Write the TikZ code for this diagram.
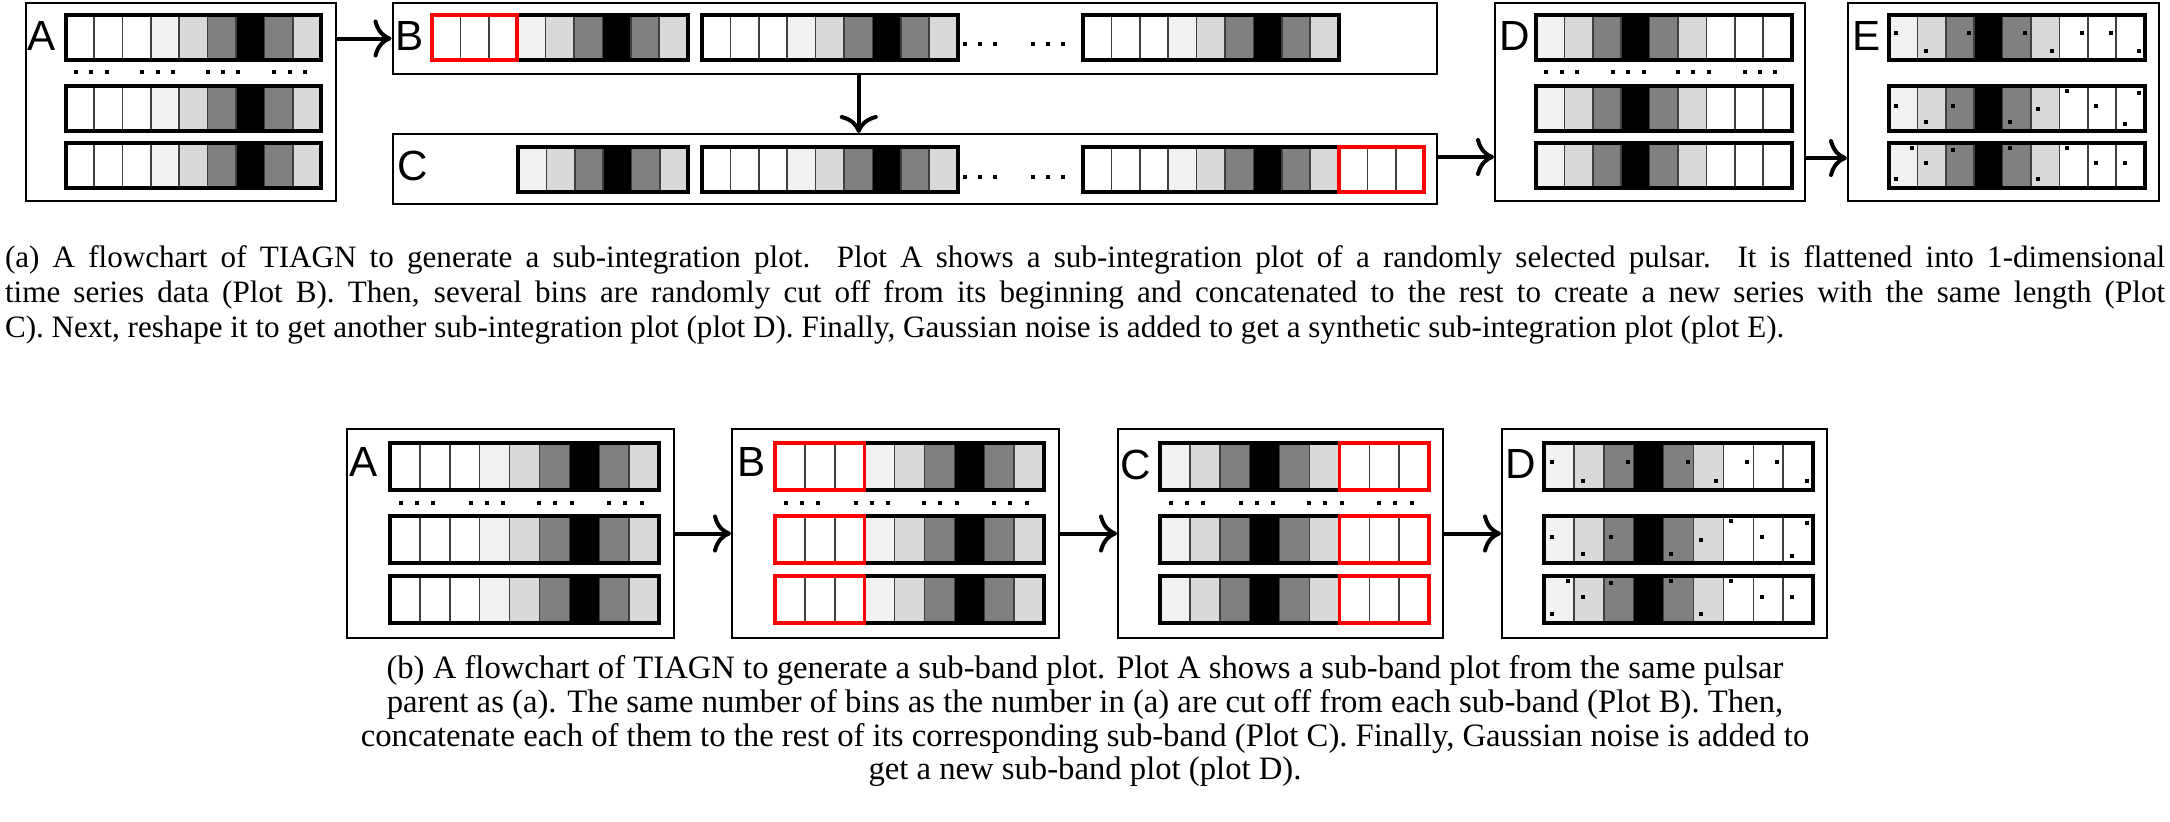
\documentclass[tikz,border=0pt]{standalone}
\usepackage{fontspec}
\setmainfont{Liberation Serif}
\newfontfamily\labfont{Liberation Sans}
\usepackage{tikz}
\usetikzlibrary{positioning,arrows.meta}

% bin colours
\colorlet{binA}{black!5}
\colorlet{binB}{black!15}
\colorlet{binC}{black!50}

% bin patterns
\def\pulse{white,white,white,binA,binB,binC,black,binC,binB}
\def\tail{binA,binB,binC,black,binC,binB}
\def\shifted{binA,binB,binC,black,binC,binB,white,white,white}
\def\blank{white,white,white}

% one row of bins: x, y, cell width, height, colours
\newcommand{\bins}[5]{%
  \foreach \c [count=\i from 0] in #5 {
    \fill[\c] ({#1+\i*#3},#2) rectangle ++(#3,#4);
    \draw[cell] ({#1+\i*#3},#2) rectangle ++(#3,#4);
    \xdef\nbins{\i}
  }
  \draw[strip] (#1,#2) rectangle ({#1+(\nbins+1)*#3},{#2+#4});
}
% red frame round three bins
\newcommand{\cutbins}[4]{\draw[cut] (#1,#2) rectangle ++({3*#3},#4);}
% vertical ellipsis row under a strip of width #3
\newcommand{\skipdots}[3]{%
  \foreach \g in {0.04,0.3,0.555,0.815} {
    \foreach \k in {0,1,2} {
      \fill ({#1+(\g+\k*0.06)*#3-2},{#2-2}) rectangle ++(4,4);
    }
  }
}
% horizontal ellipsis
\newcommand{\hdots}[2]{%
  \foreach \k in {0,15,30,68,83,98} {
    \fill ({#1+\k-2},{#2-2}) rectangle ++(4,4);
  }
}
% gaussian noise points
\newcommand{\noise}[5]{%
  \foreach \i/\u/\v in #5 {
    \fill ({#1+(\i+\u)*#3-2},{#2+\v*#4-2}) rectangle ++(4,4);
  }
}
\def\noiseA{0/0.25/0.4, 1/0.3/0.8, 2/0.8/0.4, 4/0.8/0.4, 5/0.75/0.8, 6/0.8/0.4, 7/0.8/0.4, 8/0.8/0.8}
\def\noiseB{0/0.25/0.45, 1/0.3/0.8, 2/0.25/0.45, 4/0.25/0.8, 5/0.25/0.5, 6/0.25/0.1, 7/0.3/0.45, 8/0.8/0.15, 8/0.3/0.85}
\def\noiseC{0/0.8/0.1, 0/0.25/0.8, 1/0.3/0.45, 2/0.25/0.15, 4/0.25/0.1, 5/0.25/0.8, 6/0.25/0.1, 7/0.3/0.45, 8/0.3/0.45}

\tikzset{
  cell/.style={draw=black!75, line width=0.15mm},
  strip/.style={draw=black, line width=0.4mm},
  cut/.style={draw=red, line width=0.35mm},
  panel/.style={draw, line width=0.2mm, inner sep=0pt, anchor=north west},
  lab/.style={inner sep=0pt, anchor=north west, font=\labfont\fontsize{12}{12}\selectfont},
  flow/.style={-{To[length=1.8mm,width=3.8mm]}, line width=0.4mm},
  caption/.style={inner sep=0pt}
}

\begin{document}
\begin{tikzpicture}[x=0.1mm, y=-0.1mm]
\useasboundingbox (0,0) rectangle (2170,821);

% ---- (a) sub-integration plot ----
\node[panel, minimum width=31mm, minimum height=19.8mm] (pa) at (25,2) {};
\node[panel, minimum width=104.45mm, minimum height=7.1mm] (pb) at (391.5,2) {};
\node[panel, minimum width=104.45mm, minimum height=7mm] (pc) at (391.5,133) {};
\node[panel, minimum width=31mm, minimum height=19.8mm] (pd) at (1494,2) {};
\node[panel, minimum width=31.1mm, minimum height=19.8mm] (pe) at (1847,2) {};

\node[lab] (la) at (27,21) {A};
\node[lab] (lb) at (395,21) {B};
\node[lab] (lc) at (397,150) {C};
\node[lab] (ld) at (1499,21) {D};
\node[lab] (le) at (1852,21) {E};

% plot A
\foreach \y in {15,86,143} {\bins{65.6}{\y}{28.4}{45}{\pulse}}
\skipdots{65.6}{72}{256}
% plot B
\bins{432}{15}{28.4}{45}{\pulse}
\cutbins{432}{15}{28.4}{45}
\bins{702}{15}{28.4}{45}{\pulse}
\hdots{965}{44}
\bins{1083}{15}{28.4}{45}{\pulse}
% plot C
\bins{518}{147}{28.4}{45}{\tail}
\bins{702}{147}{28.4}{45}{\pulse}
\hdots{965}{177}
\bins{1083}{147}{28.4}{45}{\pulse}
\bins{1339}{147}{28.4}{45}{\blank}
\cutbins{1339}{147}{28.4}{45}
% plot D
\foreach \y in {15,86,143} {\bins{1536}{\y}{28.4}{45}{\shifted}}
\skipdots{1536}{72}{256}
% plot E
\foreach \y in {15,86,143} {\bins{1889}{\y}{28.4}{45}{\shifted}}
\noise{1889}{15}{28.4}{45}{\noiseA}
\noise{1889}{86}{28.4}{45}{\noiseB}
\noise{1889}{143}{28.4}{45}{\noiseC}

\draw[flow] (pa.east |- pb.west) -- (pb.west);
\draw[flow] ([xshift=-5.6mm]pb.south) -- ([xshift=-5.6mm]pc.north);
\draw[flow] ([yshift=1.2mm]pc.east) -- ([yshift=1.2mm]pc.east -| pd.west);
\draw[flow] ([yshift=-5.6mm]pd.east) -- ([yshift=-5.6mm]pe.west);

\node[caption, font=\fontsize{8.85}{9.9}\selectfont, text width=216mm, align=justify, anchor=north] (capa) at (1085,245)
{\parfillskip=0pt (a) A flowchart of TIAGN to generate a sub-integration plot. Plot A shows a sub-integration plot of a randomly selected pulsar. It is flattened into 1-dimensional\linebreak
time series data (Plot B). Then, several bins are randomly cut off from its beginning and concatenated to the rest to create a new series with the same length (Plot\linebreak
C). Next, reshape it to get another sub-integration plot (plot D). Finally, Gaussian noise is added to get a synthetic sub-integration plot (plot E).};

% ---- (b) sub-band plot ----
\node[panel, minimum width=32.7mm, minimum height=20.9mm] (qa) at (346,428) {};
\node[panel, minimum width=32.7mm, minimum height=20.9mm] (qb) at (731,428) {};
\node[panel, minimum width=32.5mm, minimum height=20.9mm] (qc) at (1117,428) {};
\node[panel, minimum width=32.5mm, minimum height=20.9mm] (qd) at (1501,428) {};

\node[lab] (ma) at (349,447) {A};
\node[lab] (mb) at (737,447) {B};
\node[lab] (mc) at (1120,449) {C};
\node[lab] (md) at (1505,449) {D};

\foreach \y in {443,516,576} {
  \bins{390}{\y}{29.9}{47}{\pulse}
  \bins{775}{\y}{29.9}{47}{\pulse}
  \cutbins{775}{\y}{29.9}{47}
  \bins{1160}{\y}{29.9}{47}{\shifted}
  \cutbins{1339.4}{\y}{29.9}{47}
  \bins{1544}{\y}{29.9}{47}{\shifted}
}
\skipdots{390}{503}{269}
\skipdots{775}{503}{269}
\skipdots{1160}{503}{269}
\noise{1544}{443}{29.9}{47}{\noiseA}
\noise{1544}{516}{29.9}{47}{\noiseB}
\noise{1544}{576}{29.9}{47}{\noiseC}

\draw[flow] (qa) -- (qb);
\draw[flow] (qb) -- (qc);
\draw[flow] (qc) -- (qd);

\node[caption, font=\fontsize{9.3}{9.6}\selectfont, align=center, anchor=north] (capb) at (1085,655)
{(b) A flowchart of TIAGN to generate a sub-band plot. Plot A shows a sub-band plot from the same pulsar\\
parent as (a). The same number of bins as the number in (a) are cut off from each sub-band (Plot B). Then,\\
concatenate each of them to the rest of its corresponding sub-band (Plot C). Finally, Gaussian noise is added to\\
get a new sub-band plot (plot D).};
\end{tikzpicture}
\end{document}
